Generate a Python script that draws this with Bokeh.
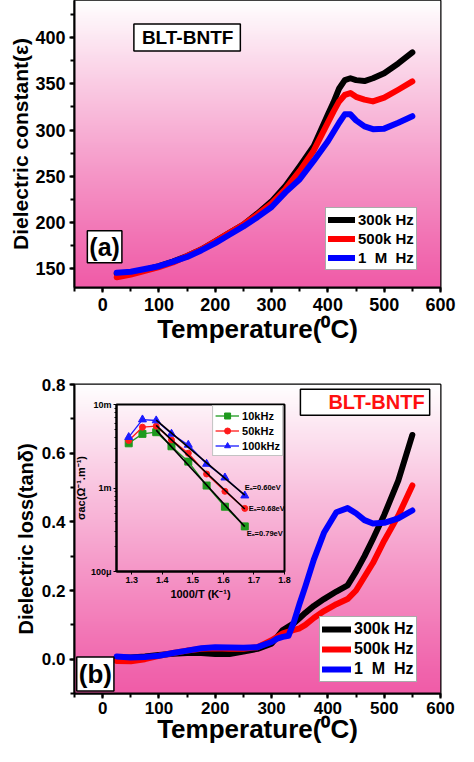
import numpy as np
from bokeh.plotting import figure
from bokeh.layouts import column
from bokeh.models import (Legend, LegendItem, Label, FixedTicker, SingleIntervalTicker,
                          Range1d, NumeralTickFormatter)
from bokeh.embed import file_html
from bokeh.resources import INLINE
from bokeh.core.properties import value

# ---------------- data: panel (a) dielectric constant ----------------
temp_a = [25, 50, 75, 100, 125, 150, 175, 200, 225, 250, 275, 300, 325, 350, 375,
          400, 410, 420, 430, 440, 450, 465, 480, 500, 525, 550]
eps_300k = [145, 146, 149, 153, 158, 164, 171, 180, 189, 198, 210, 223, 240, 261, 283,
            317, 330, 345, 354, 356, 354, 353, 356, 361.5, 372, 384]
eps_500k = [141, 144, 148, 152, 157, 164, 171, 180, 189, 198, 209, 221, 236.7, 256, 278,
            308, 320, 331, 338, 340, 336, 333, 331, 335, 343.6, 352.6]
eps_1M = [146, 147, 150, 153, 158, 163, 170, 178, 187, 196, 206, 217, 233, 247, 267,
          288, 298, 308, 317, 317, 310.5, 304, 301, 301.6, 308, 315]

# ---------------- data: panel (b) dielectric loss ----------------
temp_b = [25, 50, 75, 100, 125, 150, 175, 200, 225, 250, 275, 300, 310, 320, 330, 340,
          350, 360, 375, 393, 415, 435, 450, 465, 480, 500, 525, 550]
loss_300k = [0.005, 0.005, 0.008, 0.012, 0.016, 0.018, 0.018, 0.015, 0.015, 0.022, 0.03,
             0.045, 0.065, 0.085, 0.095, 0.105, 0.12, 0.135, 0.155, 0.175, 0.197, 0.215,
             0.255, 0.3, 0.35, 0.42, 0.52, 0.653]
loss_500k = [-0.005, -0.006, 0.0, 0.01, 0.018, 0.025, 0.03, 0.032, 0.03, 0.03, 0.035,
             0.055, 0.065, 0.075, 0.08, 0.085, 0.09, 0.1, 0.12, 0.14, 0.16, 0.175,
             0.2, 0.24, 0.28, 0.345, 0.418, 0.506]
loss_1M = [0.008, 0.005, 0.006, 0.01, 0.018, 0.025, 0.032, 0.035, 0.034, 0.033, 0.035,
           0.05, 0.06, 0.065, 0.068, 0.11, 0.163, 0.212, 0.29, 0.368, 0.428, 0.44,
           0.425, 0.405, 0.395, 0.397, 0.41, 0.433]

# ---------------- data: inset (ac conductivity) ----------------
inv_T = [1.29, 1.335, 1.38, 1.43, 1.485, 1.545, 1.605, 1.67]
sig_10k = [3.43e-3, 4.45e-3, 4.66e-3, 3.16e-3, 2.07e-3, 1.07e-3, 5.97e-4, 3.47e-4]
sig_50k = [3.70e-3, 5.35e-3, 5.5e-3, 3.77e-3, 2.61e-3, 1.47e-3, 9.12e-4, 5.7e-4]
sig_100k = [4.06e-3, 6.6e-3, 6.43e-3, 4.45e-3, 3.28e-3, 1.94e-3, 1.33e-3, 8.1e-4]
inset_labels = ["10kHz", "50kHz", "100kHz"]
ea_labels = ["Eₐ=0.79eV", "Eₐ=0.68eV", "Eₐ=0.60eV"]

legend_labels = ["300k Hz", "500k Hz", "1  M  Hz"]

FONT = "Liberation Sans"
COLORS = ["black", "#ff0000", "#0000ff"]


def gradient(p, x0, x1, y0, y1):
    n = 300
    t = np.linspace(0, 1, n) ** 1.1
    bottom = np.array([240, 92, 168])
    top = np.array([255, 255, 255])
    img = np.zeros((n, 2), dtype=np.uint32)
    view = img.view(dtype=np.uint8).reshape((n, 2, 4))
    for i in range(n):
        c = bottom * (1 - t[i]) + top * t[i]
        view[i, :, 0] = int(c[0])
        view[i, :, 1] = int(c[1])
        view[i, :, 2] = int(c[2])
        view[i, :, 3] = 255
    p.image_rgba(image=[img], x=x0, y=y0, dw=x1 - x0, dh=y1 - y0, level="image")


def style_axes(p, tick_size):
    for ax in (p.xaxis, p.yaxis):
        ax.axis_line_width = 2
        ax.major_tick_line_width = 2
        ax.minor_tick_line_width = 2
        ax.major_tick_out = 5
        ax.major_tick_in = 0
        ax.minor_tick_out = 4
        ax.minor_tick_in = 0
        ax.major_label_text_font = FONT
        ax.major_label_text_font_style = "bold"
        ax.major_label_text_font_size = tick_size
        ax.major_label_text_color = "black"
        ax.axis_label_text_font = FONT
        ax.axis_label_text_font_style = "bold"
        ax.axis_label_text_color = "black"
    p.xgrid.visible = False
    p.ygrid.visible = False
    p.outline_line_color = "black"
    p.outline_line_width = 2
    p.outline_line_alpha = 1


def make_legend(p, renderers, labels, loc, fsize, gh, gw):
    items = [LegendItem(label=l, renderers=[r]) for l, r in zip(labels, renderers)]
    lg = Legend(items=items, location=loc, glyph_width=gw, glyph_height=gh,
                label_height=gh, spacing=0, padding=2, margin=0, label_standoff=3,
                label_text_font=FONT, label_text_font_style="bold",
                label_text_font_size=fsize, label_text_color="black",
                border_line_color="#555555",
                border_line_width=1, background_fill_color="white",
                background_fill_alpha=1)
    p.add_layout(lg, "center")


def box_label(p, x, y, text, size, color="black", pad=3):
    p.add_layout(Label(x=x, y=y, text=text, text_align="center", text_baseline="middle",
                       text_font=FONT, text_font_style="bold", text_font_size=size,
                       text_color=color, text_alpha=1,
                       background_fill_color="white", background_fill_alpha=1,
                       border_line_color="black", border_line_width=1.5, padding=pad))


# ---------------- panel (a) ----------------
xa0, xa1, ya0, ya1 = -50, 600, 130, 440
pa = figure(width=458, height=360, x_range=Range1d(xa0, xa1), y_range=Range1d(ya0, ya1),
            output_backend="svg", toolbar_location=None,
            min_border_left=65, min_border_right=18, min_border_top=0, min_border_bottom=73)
gradient(pa, xa0, xa1, ya0, ya1)
ra = []
for ys, c in zip([eps_300k, eps_500k, eps_1M], COLORS):
    ra.append(pa.line(temp_a, ys, line_color=c, line_width=6, line_join="round", line_cap="round"))
pa.xaxis.ticker = SingleIntervalTicker(interval=100, num_minor_ticks=2)
pa.yaxis.ticker = SingleIntervalTicker(interval=50, num_minor_ticks=2)
style_axes(pa, "18px")
pa.xaxis.axis_label = "Temperature(⁰C)"
pa.yaxis.axis_label = "Dielectric constant(ε)"
pa.xaxis.axis_label_text_font_size = "26px"
pa.yaxis.axis_label_text_font_size = "21px"
pa.xaxis.major_label_standoff = 5
pa.yaxis.major_label_standoff = 4
pa.xaxis.axis_label_standoff = 0
pa.yaxis.axis_label_standoff = 0
make_legend(pa, ra, legend_labels, (251, 17), "15px", 19, 27)
box_label(pa, 150, 400, "BLT-BNTF", "19px", pad=dict(left=8, right=7, top=3, bottom=3))
box_label(pa, 3.5, 174, "(a)", "25px", pad=2)

# ---------------- panel (b) ----------------
xb0, xb1, yb0, yb1 = -50, 600, -0.1, 0.8
pb = figure(width=458, height=386, x_range=Range1d(xb0, xb1), y_range=Range1d(yb0, yb1),
            output_backend="svg", toolbar_location=None,
            min_border_left=62, min_border_right=9, min_border_top=24, min_border_bottom=53)
gradient(pb, xb0, xb1, yb0, yb1)
rb = []
for ys, c in zip([loss_300k, loss_500k, loss_1M], COLORS):
    rb.append(pb.line(temp_b, ys, line_color=c, line_width=6, line_join="round", line_cap="round"))
pb.xaxis.ticker = SingleIntervalTicker(interval=100, num_minor_ticks=2)
pb.yaxis.ticker = SingleIntervalTicker(interval=0.2, num_minor_ticks=2)
pb.yaxis.formatter = NumeralTickFormatter(format="0.0")
style_axes(pb, "17px")
pb.xaxis.axis_label = "Temperature(⁰C)"
pb.yaxis.axis_label = "Dielectric loss(tanδ)"
pb.xaxis.axis_label_text_font_size = "26px"
pb.yaxis.axis_label_text_font_size = "20px"
pb.xaxis.major_label_standoff = 3
pb.yaxis.major_label_standoff = 4
pb.xaxis.axis_label_standoff = -3
pb.yaxis.axis_label_standoff = 2
make_legend(pb, rb, legend_labels, (245, 11), "16px", 20, 29)
box_label(pb, 466, 0.748, "BLT-BNTF", "20px", color="#ff1010",
          pad=dict(left=28, right=5, top=2, bottom=2))
box_label(pb, -13, -0.043, "(b)", "26px", pad=2)

# ---------------- inset ----------------
pi = figure(width=260, height=207, x_range=Range1d(1.25, 1.8),
            y_range=Range1d(1e-4, 1e-2),
            y_axis_type="log", output_backend="svg", toolbar_location=None,
            title="σac(Ω⁻¹.m⁻¹)", title_location="left",
            min_border_left=74, min_border_right=4, min_border_top=6, min_border_bottom=34,
            background_fill_alpha=0, border_fill_alpha=0,
            styles={"position": "absolute", "left": "42px", "top": "398px"})
pi.title.align = "center"
pi.title.text_font = FONT
pi.title.text_font_style = "bold"
pi.title.text_font_size = "11px"
pi.title.text_color = "black"
pi.title.standoff = 2
pi.title.offset = 0
inset_colors = ["#1e9a1e", "#ff1a1a", "#1a1aff"]
markers = ["square", "circle", "triangle"]
msizes = [7, 6, 8]
items = []
for ys, c, m, s, lab in zip([sig_10k, sig_50k, sig_100k], inset_colors, markers, msizes, inset_labels):
    lr = pi.line(inv_T, ys, line_color=c, line_width=1.3)
    sr = pi.scatter(inv_T, ys, marker=m, size=s, fill_color=c, line_color=c)
    items.append(LegendItem(label=lab, renderers=[lr, sr]))
# linear (Arrhenius) fits over the high 1000/T side
fit_offsets = [(2, 3, "top"), (4, 0, "middle"), (0, -4, "bottom")]
for ys, lab, (xo, yo, base) in zip([sig_10k, sig_50k, sig_100k], ea_labels, fit_offsets):
    xs = np.array(inv_T[2:])
    ly = np.log10(np.array(ys[2:]))
    k, b = np.polyfit(xs, ly, 1)
    xf = np.array([xs[0], xs[-1]])
    pi.line(xf, 10 ** (k * xf + b), line_color="black", line_width=1.6)
    pi.text(x=[inv_T[-1]], y=[ys[-1]], text=[lab], x_offset=xo, y_offset=yo,
            text_align="left", text_baseline=base, text_font=value(FONT),
            text_font_style="bold", text_font_size="7.5px", text_color="black")
lg = Legend(items=items, location="top_right", glyph_width=24, glyph_height=15,
            label_height=15, spacing=0, padding=2, margin=1, label_standoff=3,
            label_text_font=FONT, label_text_font_style="bold", label_text_font_size="11px",
            label_text_color="black",
            border_line_color="#888888", background_fill_color="white", background_fill_alpha=1)
pi.add_layout(lg, "center")
pi.xaxis.ticker = SingleIntervalTicker(interval=0.1, num_minor_ticks=0)
pi.yaxis.ticker = FixedTicker(ticks=[1e-4, 1e-3, 1e-2],
                              minor_ticks=[k * 10.0 ** e for e in (-4, -3) for k in range(2, 10)])
pi.yaxis.major_label_overrides = {1e-4: "100μ", 1e-3: "1m", 1e-2: "10m"}
for ax in (pi.xaxis, pi.yaxis):
    ax.axis_line_width = 2
    ax.major_tick_out = 3
    ax.major_tick_in = 0
    ax.minor_tick_out = 2
    ax.minor_tick_in = 0
    ax.major_label_text_font = FONT
    ax.major_label_text_font_style = "bold"
    ax.major_label_text_font_size = "9px"
    ax.major_label_text_color = "black"
    ax.major_label_standoff = 2
    ax.axis_label_text_font = FONT
    ax.axis_label_text_font_style = "bold"
    ax.axis_label_text_font_size = "11px"
    ax.axis_label_text_color = "black"
    ax.axis_label_standoff = 2
pi.xaxis.axis_label = "1000/T (K⁻¹)"
pi.xgrid.visible = False
pi.ygrid.visible = False
pi.outline_line_color = "black"
pi.outline_line_width = 2

layout = column(pa, pb, pi, spacing=0)
open("out.html", "w").write(file_html(layout, INLINE))
